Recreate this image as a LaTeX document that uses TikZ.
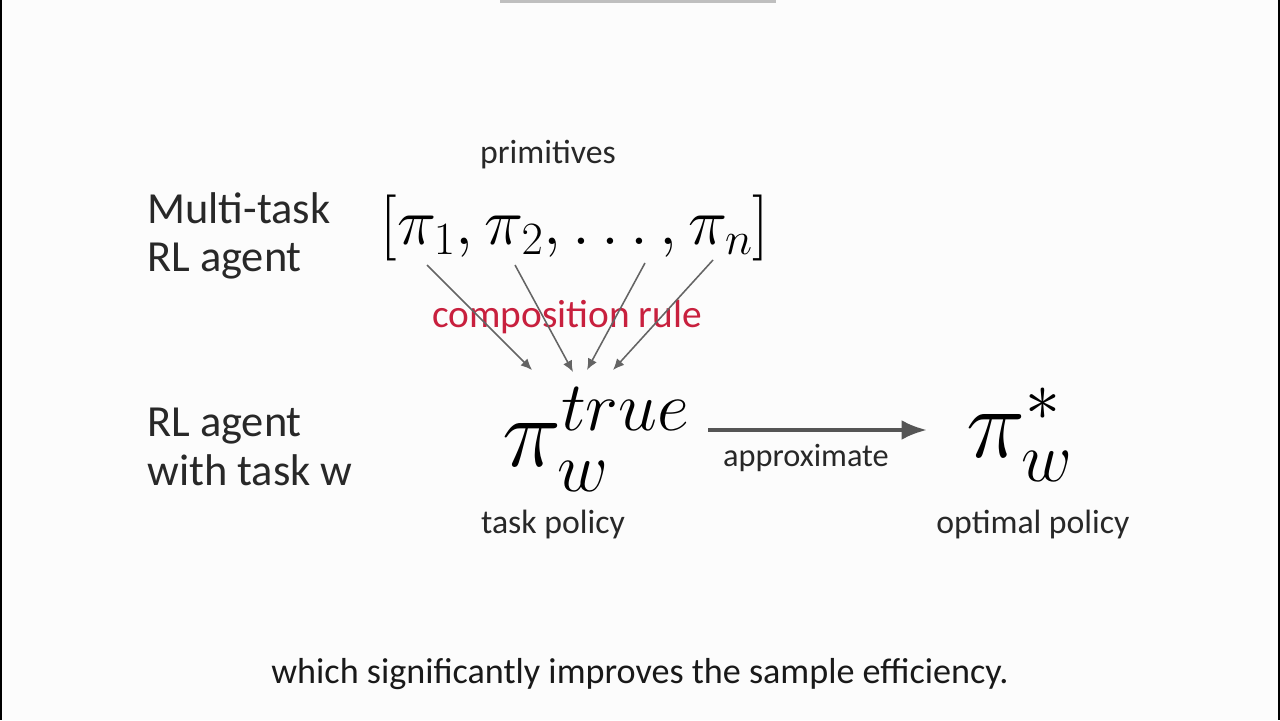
\RequirePackage{fix-cm}
\documentclass[tikz,border=0pt]{standalone}
\usepackage{amsmath}
\usepackage[no-math]{fontspec}
\setmainfont{Carlito}
\usepackage{tikz}
\usetikzlibrary{arrows.meta,positioning}
\definecolor{rulered}{RGB}{200,32,62}
\definecolor{arrowgray}{RGB}{100,100,100}
\definecolor{textgray}{RGB}{40,40,40}
\tikzset{agentlabel/.style = {anchor=base west, align=left, text=textgray, font=\fontsize{31.6}{34.3}\selectfont, inner sep=0pt}}
\tikzset{smalllabel/.style = {anchor=base, text=textgray, font=\fontsize{24}{28}\selectfont, inner sep=0pt}}
\tikzset{bigmath/.style = {anchor=base west, inner sep=0pt, font=\fontsize{71}{80}\selectfont}}
\tikzset{compose/.style={arrowgray, line width=1.1pt, -{Latex[length=8pt,width=7pt]}}}
\tikzset{approxarrow/.style={arrowgray!85!black, line width=2.8pt, -{Latex[length=18pt,width=14pt]}}}

\begin{document}
\begin{tikzpicture}
	\fill[white!99!black] (0,0) rectangle (32,18);
	\useasboundingbox (0,0) rectangle (32,18);
	% frame edges and top bar
	\fill[black] (0,0) rectangle (0.06,18);
	\fill[black] (31.94,0) rectangle (32,18);
	\fill[black!25] (12.5,17.93) rectangle (19.4,18);
	% left labels
	\node[agentlabel] (multi) at (3.675,11.2) {Multi-task\\RL agent};
	\node[agentlabel] (single) at (3.675,5.875) {RL agent\\with task w};
	% primitives
	\node[smalllabel] (prims) at (13.7,13.9) {primitives};
	\node[anchor=base, inner sep=0pt, font=\fontsize{47}{50}\selectfont] (policies) at (14.375,11.875)
		{$[\pi_1, \pi_2, \ldots, \pi_n]$};
	\node[anchor=base, inner sep=0pt, text=rulered, font=\fontsize{28}{32}\selectfont] (comp) at (14.175,9.8) {composition rule};
	% task policy and optimal policy
	\node[bigmath] (task) at (12.55,6.33) {$\pi_w^{true}$};
	\node[smalllabel] (tasklbl) at (13.825,4.675) {task policy};
	\node[bigmath] (opt) at (24.15,6.57) {$\pi_w^{*}$};
	\node[smalllabel] (optlbl) at (25.825,4.675) {optimal policy};
	% composition arrows
	\coordinate (p1) at (10.675,11.375);
	\coordinate (p2) at (12.875,11.375);
	\coordinate (p3) at (16.125,11.425);
	\coordinate (pn) at (17.825,11.5);
	\coordinate (t1) at (13.3,8.75);
	\coordinate (t2) at (14.325,8.7);
	\coordinate (t3) at (14.675,8.75);
	\coordinate (tn) at (15.325,8.75);
	\draw[compose] (p1) -- (t1);
	\draw[compose] (p2) -- (t2);
	\draw[compose] (p3) -- (t3);
	\draw[compose] (pn) -- (tn);
	% approximation
	\coordinate (a0) at (17.7,7.25);
	\coordinate (a1) at (23.175,7.25);
	\draw[approxarrow] (a0) -- (a1);
	\node[smalllabel, font=\fontsize{23}{27}\selectfont] (approx) at (20.15,6.33) {approximate};
	% subtitle
	\node[anchor=base, inner sep=0pt, text=black!90, font=\fontsize{25.7}{30}\selectfont] (subtitle) at (16,0.925)
		{which significantly improves the sample efficiency.};
\end{tikzpicture}
\end{document}
